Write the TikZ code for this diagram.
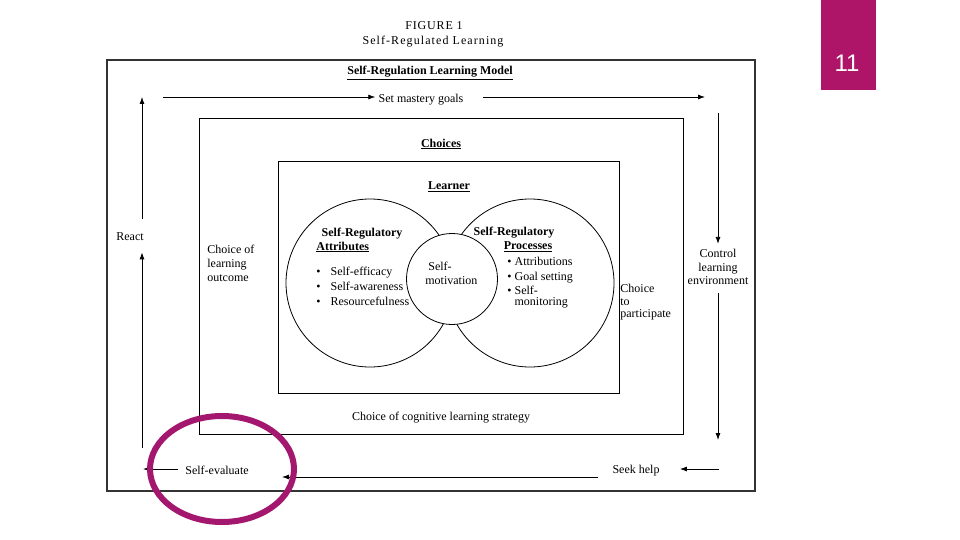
\documentclass[tikz,border=0pt]{standalone}
\usepackage{fontspec}
\setmainfont{Liberation Serif}
\newfontfamily\slidefont{Liberation Sans}
\usetikzlibrary{arrows,arrows.meta,positioning,calc}
\definecolor{slidepink}{HTML}{AE1468}
\definecolor{ringpink}{HTML}{A3186E}

\begin{document}
\begin{tikzpicture}[x=1pt,y=-1pt,>={Latex[length=7pt,width=5pt]},line width=0.8pt,
  txt/.style={inner sep=0pt,font=\fontsize{12}{14}\selectfont},
  head/.style={txt,font=\fontsize{12}{14}\selectfont\bfseries}]

\useasboundingbox (0,0) rectangle (960,540);

\fill[slidepink] (821,0) rectangle (876,90);
\node[text=white,font=\slidefont\fontsize{24}{26}\selectfont] (pagenum) at (847,63) {11};

\node[txt,font=\fontsize{12}{13}\selectfont\addfontfeature{LetterSpace=7}] (fig) at (434,26) {FIGURE 1};
\node[txt,font=\fontsize{12}{13}\selectfont\addfontfeature{LetterSpace=9}] (figsub) at (433,42) {Self-Regulated Learning};

\draw[black!80,line width=1.3pt] (107,60) rectangle (755,491);
\draw[line width=1pt] (199,119) rectangle (683,434);
\draw[line width=1pt] (278,162) rectangle (619,393);

\node[head] (model) at (430,73) {\underline{Self-Regulation Learning Model}};
\node[head] (choices) at (441,144) {\underline{Choices}};
\node[head] (learner) at (449,187) {\underline{Learner}};

\node[txt] (goals) at (421,100) {Set mastery goals};
\coordinate (goalstart) at (163,97);
\coordinate (goalrestart) at (483,97);
\coordinate (goalend) at (705,97);
\draw[->,shorten >=3pt] (goalstart) -- (goalstart -| goals.west);
\draw[->] (goalrestart) -- (goalend);

\node[txt,align=center,font=\fontsize{12}{13.5}\selectfont] (control) at (718,267) {Control\\learning\\environment};
\coordinate (ctrltop) at (718,113);
\coordinate (ctrlbot) at (718,440);
\draw[->,shorten >=5pt] (ctrltop) -- (control.north);
\draw[->,shorten <=8pt] (control.south) -- (ctrlbot);

\node[txt] (help) at (636,471) {Seek help};
\coordinate (helpstart) at (719,469);
\draw[->,shorten >=20pt] (helpstart) -- (helpstart -| help.east);
\coordinate (helpline) at (598,477);
\coordinate (evaltip) at (282,477);
\draw[->] (helpline) -- (evaltip);

\node[txt] (selfeval) at (217,470) {Self-evaluate};
\coordinate (evalstart) at (178,469);
\coordinate (evalend) at (143,469);
\draw[->] (evalstart) -- (evalend);

\node[txt] (react) at (130,237) {React};
\coordinate (reactlow) at (142,448);
\coordinate (reacthigh) at (142,219);
\coordinate (reacttop) at (142,97);
\draw[->,shorten >=11pt] (reactlow) -- (reactlow |- react.south);
\draw[->] (reacthigh) -- (reacttop);

\node[txt,align=left,anchor=north west] (outcome) at (207,245) {Choice of\\learning\\outcome};
\node[txt,align=left,anchor=north west,font=\fontsize{12}{12.5}\selectfont] (participate) at (620,284) {Choice\\to\\participate};
\node[txt] (strategy) at (441,418) {Choice of cognitive learning strategy};

\node[circle,draw,minimum size=168pt] (attrib) at (370,283) {};
\node[circle,draw,minimum size=168pt] (process) at (530,283) {};
\node[circle,draw,fill=white,minimum size=91pt] (motiv) at (452,279) {};

\node[head] (attribhead) at (362,234) {Self-Regulatory};
\node[head,anchor=west] (attribsub) at (316,247) {\underline{Attributes}};
\node[txt,align=left,anchor=north west,font=\fontsize{12}{15}\selectfont] (attriblist) at (316,267)
  {\textbullet\hspace{10pt}Self-efficacy\\\textbullet\hspace{10pt}Self-awareness\\\textbullet\hspace{10pt}Resourcefulness};

\node[txt,align=left,anchor=north west] (motivtext) at (425,262) {\hspace{3pt}Self-\\motivation};

\node[head] (processhead) at (514,233) {Self-Regulatory};
\node[head] (processsub) at (528,247) {\underline{Processes}};
\node[txt,align=left,anchor=north west,font=\fontsize{12}{14.5}\selectfont] (processlist) at (507,257)
  {\textbullet\ Attributions\\\textbullet\ Goal setting\\\textbullet\ Self-\\[-3.5pt]\phantom{\textbullet\ }monitoring};

\draw[ringpink,line width=6pt] (222,469) ellipse [x radius=72,y radius=53];

\end{tikzpicture}
\end{document}
